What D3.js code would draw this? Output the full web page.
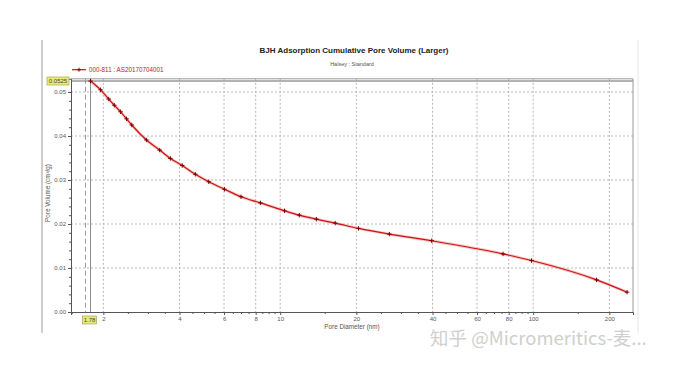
<!DOCTYPE html>
<html>
<head>
<meta charset="utf-8">
<script src="https://cdn.jsdelivr.net/npm/d3@7"></script>
<style>
  body { margin: 0; background: #fff; }
  svg { display: block; font-family: "Liberation Sans", Arial, sans-serif; }
</style>
</head>
<body>
<svg id="chart" width="690" height="370"></svg>
<script>
// pore diameter (nm) and cumulative pore volume (cm3/g)
var diameters = [1.78, 1.95, 2.10, 2.21, 2.34, 2.47, 2.59, 2.96, 3.34, 3.68, 4.10, 4.62, 5.22,
                 6.02, 7.0, 8.35, 10.4, 11.9, 13.9, 16.5, 20.4, 27.0, 39.7, 76.0, 98.5, 178, 235];
var volumes = [0.0525, 0.0505, 0.0484, 0.0470, 0.0455, 0.0439, 0.0425, 0.0391, 0.0368, 0.0349, 0.0333, 0.0313, 0.0296,
               0.0279, 0.0262, 0.0248, 0.0230, 0.0220, 0.0211, 0.0202, 0.0190, 0.0177, 0.0162, 0.0132, 0.0117, 0.0073, 0.0045];

var xMajorTicks = [2, 4, 6, 8, 10, 20, 40, 60, 80, 100, 200];
var xMinorTicks = [1.5, 2.5, 3, 3.5, 4.5, 5, 5.5, 6.5, 7, 7.5, 8.5, 9, 9.5, 15, 25, 30, 35,
                   45, 50, 55, 65, 70, 75, 85, 90, 95, 150];
var yMajorTicks = [0, 0.01, 0.02, 0.03, 0.04, 0.05];
var yMinorTicks = d3.range(0.002, 0.052, 0.002);

var cursorX = 1.78, cursorY = 0.0525, limitX = 1.7;
var title = "BJH Adsorption Cumulative Pore Volume (Larger)";
var subtitle = "Halsey : Standard";
var seriesName = "000-811 : AS20170704001";

var lineColor = "#c81414";
var gridColor = "#b0b0b0";

var svg = d3.select("#chart");
var plotLeft = 71, plotRight = 633, plotTop = 78.8, plotBottom = 312;

var x = d3.scaleLog().domain([1.49, 248]).range([plotLeft, plotRight]);
var y = d3.scaleLinear().domain([0, 0.053]).range([plotBottom, plotTop]);

// outer frame edges of the screenshot
svg.append("line").attr("x1", 42).attr("x2", 42).attr("y1", 40).attr("y2", 333)
    .attr("stroke", "#9a9a9a").attr("stroke-width", 1);
svg.append("line").attr("x1", 638).attr("x2", 638).attr("y1", 40).attr("y2", 333)
    .attr("stroke", "#e6e6e6").attr("stroke-width", 1);

// titles
svg.append("text").attr("x", 354).attr("y", 53).attr("text-anchor", "middle")
    .attr("font-size", 8).attr("font-weight", "bold").attr("fill", "#222").text(title);
svg.append("text").attr("x", 352).attr("y", 66).attr("text-anchor", "middle")
    .attr("font-size", 5.5).attr("fill", "#555").text(subtitle);

// legend
svg.append("line").attr("x1", 72).attr("x2", 86).attr("y1", 69.7).attr("y2", 69.7)
    .attr("stroke", lineColor).attr("stroke-width", 1.2);
svg.append("path").attr("d", "M77,69.7H81M79,67.7V71.7")
    .attr("stroke", "#8a0000").attr("stroke-width", 1);
svg.append("text").attr("x", 89).attr("y", 72).attr("font-size", 6.3)
    .attr("fill", lineColor).text(seriesName);

// grid
var grid = svg.append("g");
grid.selectAll(".vgrid").data(xMajorTicks).enter().append("line")
    .attr("x1", d => x(d)).attr("x2", d => x(d)).attr("y1", plotTop).attr("y2", plotBottom)
    .attr("stroke", gridColor).attr("stroke-width", 0.9).attr("stroke-dasharray", "2,2");
grid.selectAll(".hgrid").data(yMajorTicks.slice(1)).enter().append("line")
    .attr("x1", plotLeft).attr("x2", plotRight).attr("y1", d => y(d)).attr("y2", d => y(d))
    .attr("stroke", gridColor).attr("stroke-width", 0.9).attr("stroke-dasharray", "2,2");

// plot frame (top and right)
svg.append("path").attr("d", "M" + plotLeft + "," + plotTop + "H" + plotRight + "V" + plotBottom)
    .attr("fill", "none").attr("stroke", "#9a9a9a").attr("stroke-width", 1);

// cursor lines
svg.append("line").attr("x1", x(limitX)).attr("x2", x(limitX)).attr("y1", plotTop).attr("y2", plotBottom)
    .attr("stroke", "#9a9a9a").attr("stroke-width", 1).attr("stroke-dasharray", "5,3");
svg.append("line").attr("x1", x(cursorX)).attr("x2", x(cursorX)).attr("y1", plotTop).attr("y2", plotBottom)
    .attr("stroke", "#8c8c8c").attr("stroke-width", 1);
svg.append("line").attr("x1", plotLeft).attr("x2", plotRight).attr("y1", y(cursorY)).attr("y2", y(cursorY))
    .attr("stroke", "#9a9a9a").attr("stroke-width", 1.6);

// axes
var xAxis = d3.axisBottom(x).tickValues(xMajorTicks).tickSize(3).tickPadding(2)
    .tickFormat(d3.format("d"));
var gx = svg.append("g").attr("transform", "translate(0," + plotBottom + ")").call(xAxis);
var gxMinor = svg.append("g").attr("transform", "translate(0," + plotBottom + ")")
    .call(d3.axisBottom(x).tickValues(xMinorTicks).tickSize(2).tickFormat(""));

var yAxis = d3.axisLeft(y).tickValues(yMajorTicks).tickSize(3).tickPadding(2)
    .tickFormat(d3.format(".2f"));
var gy = svg.append("g").attr("transform", "translate(" + plotLeft + ",0)").call(yAxis);
var gyMinor = svg.append("g").attr("transform", "translate(" + plotLeft + ",0)")
    .call(d3.axisLeft(y).tickValues(yMinorTicks).tickSize(2).tickFormat(""));

[gx, gxMinor, gy, gyMinor].forEach(function (g) {
    g.select(".domain").attr("stroke", "#555").attr("stroke-width", 1);
    g.selectAll(".tick line").attr("stroke", "#555");
    g.selectAll(".tick text").attr("fill", "#555").attr("font-size", 6)
        .attr("font-family", "Liberation Sans, Arial, sans-serif");
});
gxMinor.select(".domain").remove();
gyMinor.select(".domain").remove();

// axis titles
svg.append("text").attr("x", 352).attr("y", 329).attr("text-anchor", "middle")
    .attr("font-size", 6.3).attr("fill", "#555").text("Pore Diameter (nm)");
svg.append("text").attr("transform", "translate(50,193) rotate(-90)").attr("text-anchor", "middle")
    .attr("font-size", 6.3).attr("fill", "#555").text("Pore Volume (cm³/g)");

// series
var points = diameters.map((d, i) => ({ d: d, v: volumes[i] }));
var line = d3.line().x(p => x(p.d)).y(p => y(p.v)).curve(d3.curveMonotoneX);
svg.append("path").datum(points).attr("d", line).attr("fill", "none")
    .attr("stroke", "#f3a0a0").attr("stroke-width", 3).attr("opacity", 0.6);
svg.append("path").datum(points).attr("d", line).attr("fill", "none")
    .attr("stroke", lineColor).attr("stroke-width", 1.2);
svg.selectAll(".marker").data(points).enter().append("path")
    .attr("d", p => "M" + (x(p.d) - 2.2) + "," + y(p.v) + "h4.4M" + x(p.d) + "," + (y(p.v) - 2.2) + "v4.4")
    .attr("stroke", "#7a0000").attr("stroke-width", 1);

// cursor readouts
function readout(cx, cy, w, label) {
    svg.append("rect").attr("x", cx).attr("y", cy).attr("width", w).attr("height", 8)
        .attr("fill", "#e9ea7a").attr("stroke", "#9a9a40").attr("stroke-width", 0.6);
    svg.append("text").attr("x", cx + w / 2).attr("y", cy + 6.2).attr("text-anchor", "middle")
        .attr("font-size", 6).attr("fill", "#444").text(label);
}
readout(47, y(cursorY) - 4, 22, d3.format(".4f")(cursorY));
readout(x(cursorX) - 8, 316, 14, d3.format(".2f")(cursorX));

// watermark
svg.append("text").attr("x", 430).attr("y", 345).attr("font-size", 18.5)
    .attr("font-family", "'Noto Sans CJK SC', 'Noto Sans', sans-serif")
    .attr("fill", "#cfcfcf").text("知乎 @Micromeritics-麦...");
</script>
</body>
</html>
